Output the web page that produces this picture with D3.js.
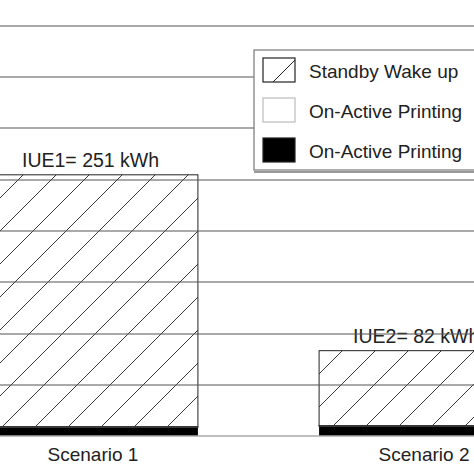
<!DOCTYPE html>
<html><head><meta charset="utf-8">
<script src="https://cdn.jsdelivr.net/npm/d3@7"></script>
<style>body{margin:0;background:#fff}text{font-family:"Liberation Sans",Arial,sans-serif;fill:#222}</style>
</head><body><svg id="c" width="474" height="474"></svg>
<script>
const categories = ["Scenario 1", "Scenario 2"];
const blackPart = [8, 9];
const whitePart = [1, 1];
const hatchPart = [242, 72];
const totals = [251, 82];
const labels = ["IUE1= 251 kWh", "IUE2= 82 kWh"];
const gridTicks = [49, 98, 148, 197, 246, 296, 345, 394];
const legendItems = ["Standby Wake up", "On-Active Printing", "On-Active Printing"];

const svg = d3.select("#c");
const y = d3.scaleLinear().domain([0, 394]).range([436, 26]);
const x = d3.scaleBand().domain(categories).range([-12, 529]).paddingInner(0.366).paddingOuter(0);

const defs = svg.append("defs");
const pat = defs.append("pattern").attr("id","h").attr("patternUnits","userSpaceOnUse").attr("width",33).attr("height",33);
pat.append("rect").attr("width",33).attr("height",33).attr("fill","#fff");
pat.append("path").attr("d","M0,33 L33,0 M-5,5 L5,-5 M28,38 L38,28").attr("stroke","#222").attr("stroke-width",0.9);

const g = svg.append("g");
categories.forEach((c,i)=>{
  const x0 = x(c), w = x.bandwidth();
  const b = blackPart[i], wp = whitePart[i];
  g.append("rect").attr("x",x0).attr("width",w).attr("y",y(totals[i])).attr("height",y(b+wp)-y(totals[i])).attr("fill","url(#h)").attr("stroke","#222").attr("stroke-width",1);
  g.append("rect").attr("x",x0).attr("width",w).attr("y",y(b+wp)).attr("height",y(b)-y(b+wp)).attr("fill","#fff").attr("stroke","#222").attr("stroke-width",0.8);
  g.append("rect").attr("x",x0).attr("width",w).attr("y",y(b)).attr("height",y(0)-y(b)).attr("fill","#000");
  svg.append("text").attr("x",x0+34).attr("y",y(totals[i])-8).attr("font-size",19.5).text(labels[i]);
  svg.append("text").attr("x",x0+w/2).attr("y",461).attr("text-anchor","middle").attr("font-size",19).text(c);
});
svg.append("g").selectAll("line").data(gridTicks).join("line")
  .attr("x1",0).attr("x2",474).attr("y1",d=>y(d)).attr("y2",d=>y(d))
  .attr("stroke","#555").attr("stroke-width",1.1);
svg.append("line").attr("x1",0).attr("x2",474).attr("y1",y(0)).attr("y2",y(0)).attr("stroke","#aaa").attr("stroke-width",1.3);

const lg = svg.append("g");
lg.append("rect").attr("x",254).attr("y",50).attr("width",240).attr("height",120).attr("fill","#fff").attr("stroke","#777").attr("stroke-width",1.2);
lg.append("line").attr("x1",254).attr("x2",474).attr("y1",172).attr("y2",172).attr("stroke","#999").attr("stroke-width",2);
const fills = ["url(#h)","#fff","#000"];
legendItems.forEach((t,i)=>{
  const yy = 58 + i*40;
  lg.append("rect").attr("x",263).attr("y",yy).attr("width",32).attr("height",24)
    .attr("fill", i===0 ? "#fff" : fills[i]).attr("stroke", i===1 ? "#bbb" : "#222").attr("stroke-width",1.2);
  if(i===0) lg.append("line").attr("x1",273).attr("y1",yy+24).attr("x2",295).attr("y2",yy+2).attr("stroke","#222");
  lg.append("text").attr("x",309).attr("y",yy+20).attr("font-size",19).text(t);
});
</script></body></html>
